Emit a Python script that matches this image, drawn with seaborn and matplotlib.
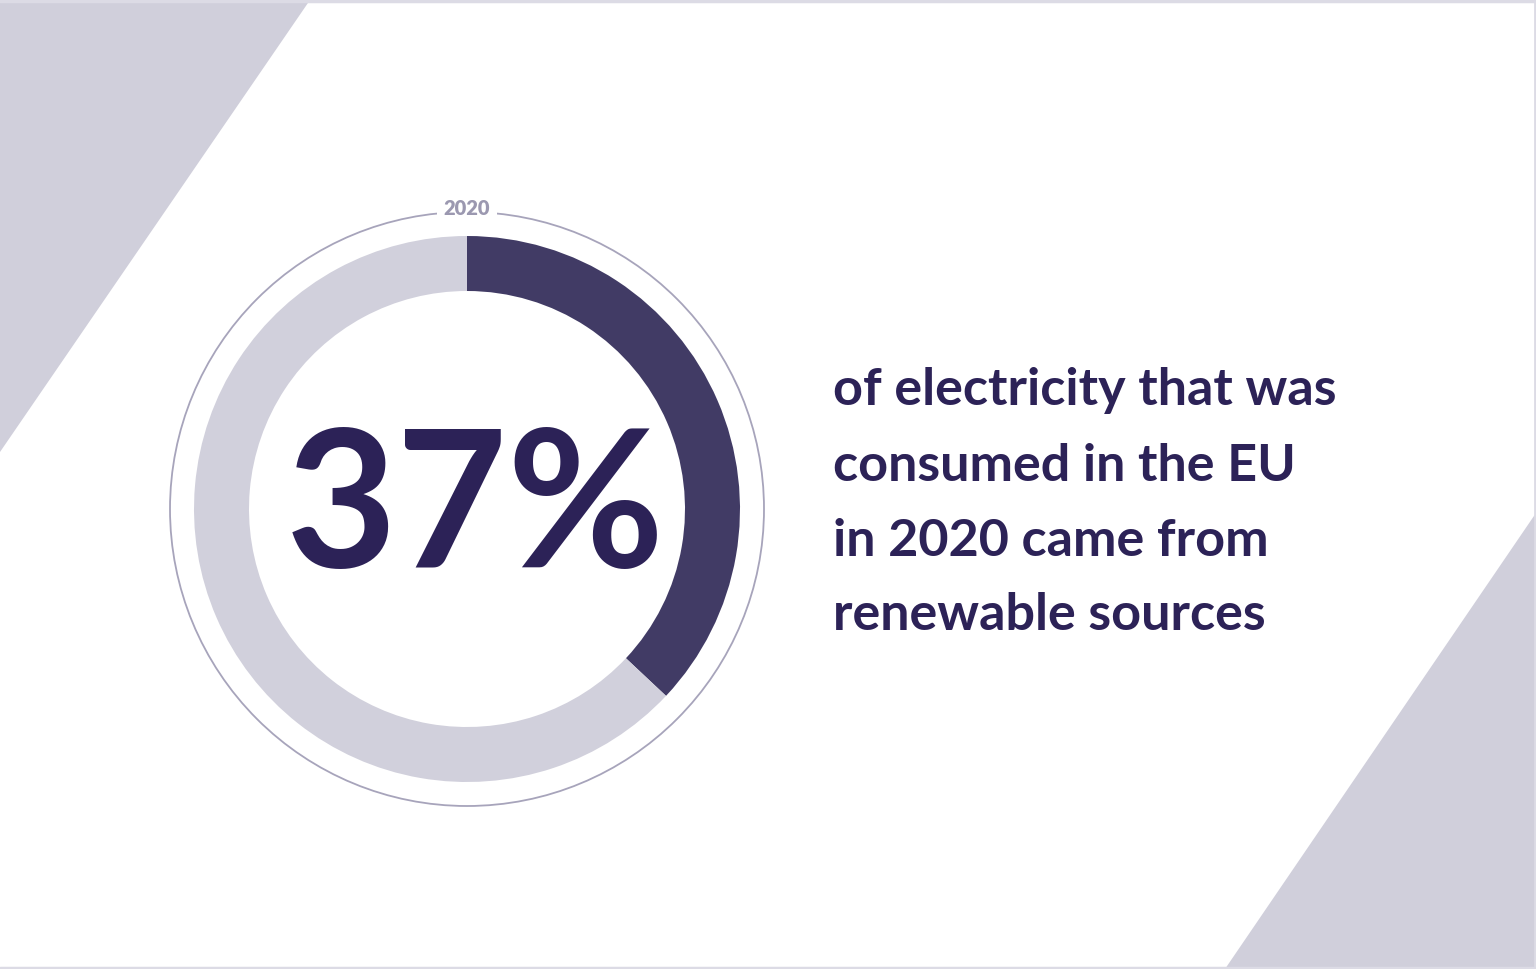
import matplotlib
matplotlib.use("Agg")
import matplotlib.pyplot as plt
from matplotlib.patches import Polygon, Circle
from matplotlib.lines import Line2D
import seaborn as sns

# ---- data ----
share_labels = ["Renewable", "Other"]
share_values = [37, 63]
year_label = "2020"
big_label = "37%"
caption_lines = [
    "of electricity that was",
    "consumed in the EU",
    "in 2020 came from",
    "renewable sources",
]

# ---- style ----
sns.set_theme(style="white")
plt.rcParams["font.family"] = ["Lato", "DejaVu Sans"]

W, H = 1536, 969
DPI = 100
dark = "#413b65"
light = "#d1d0dc"
bg_shape = "#d0cfdb"
text_col = "#2c2257"
ring_col = "#a7a4bb"
year_col = "#9b98b0"

fig = plt.figure(figsize=(W / DPI, H / DPI), dpi=DPI, facecolor="white")
ax = fig.add_axes([0, 0, 1, 1])

# background shapes
ax.add_patch(Polygon([[0, H], [310, H], [0, H - 452]], closed=True,
                     facecolor=bg_shape, edgecolor="none", zorder=0))
ax.add_patch(Polygon([[W, H - 513], [W, 0], [1225, 0]], closed=True,
                     facecolor=bg_shape, edgecolor="none", zorder=0))

# donut
cx, cy = 467, H - 509
palette = sns.color_palette([dark, light])
ax.pie(share_values, labels=None, colors=palette, startangle=90,
       counterclock=False, center=(cx, cy), radius=273,
       wedgeprops=dict(width=55, edgecolor="none", linewidth=0))

# thin outer ring
ax.add_patch(Circle((cx, cy), 297, fill=False, edgecolor=ring_col,
                    linewidth=1.3, zorder=1))
ax.text(cx, cy + 301, year_label, ha="center", va="center",
        fontsize=14.5, fontweight="heavy", color=year_col, zorder=3,
        bbox=dict(boxstyle="square,pad=0.35", facecolor="white",
                  edgecolor="none"))

# big number
ax.text(475, H - 567, big_label, ha="center", va="baseline",
        fontsize=138, fontweight="bold", color=text_col, zorder=4)

# caption
baselines = [405, 481, 556, 630]
for line, b in zip(caption_lines, baselines):
    ax.text(833, H - b, line, ha="left", va="baseline", fontsize=37.5,
            fontweight="bold", color=text_col, zorder=4)

ax.set_xlim(0, W)
ax.set_ylim(0, H)
ax.set_aspect("equal", adjustable="box")
ax.set_axis_off()

# frame lines
border = "#dcdbe5"
fig.add_artist(Line2D([0, 1], [0.999, 0.999], transform=fig.transFigure,
                      color=border, linewidth=2.5))
fig.add_artist(Line2D([0, 1], [0.001, 0.001], transform=fig.transFigure,
                      color=border, linewidth=2.5))
fig.add_artist(Line2D([0.9995, 0.9995], [0, 1], transform=fig.transFigure,
                      color=border, linewidth=2.0))

fig.savefig("out.png", dpi=DPI, facecolor="white")
